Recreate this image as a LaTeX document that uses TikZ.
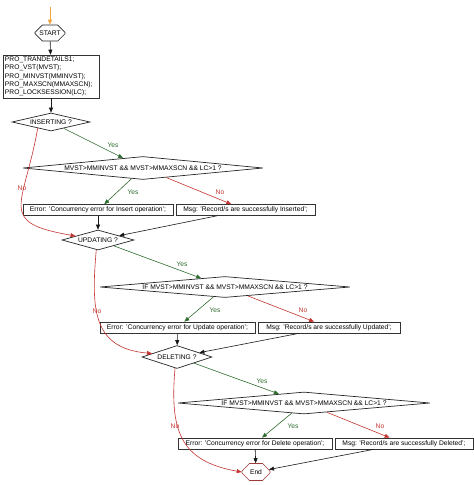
\documentclass[tikz,border=0pt]{standalone}
\usepackage{fontspec}
\setmainfont{Liberation Sans}
\usetikzlibrary{arrows.meta, shapes.geometric, shapes.misc}
\definecolor{yesgreen}{HTML}{2E6B2E}
\definecolor{nored}{HTML}{C23530}
\definecolor{startorange}{HTML}{F2A33A}
\definecolor{endred}{HTML}{9E3A3A}
\tikzset{
  chartfont/.style={font=\fontsize{6.7}{8.2}\selectfont},
  decis/.style={diamond, draw=black!85, line width=0.7pt, fill=white,
    shape aspect=#1, inner sep=0pt, chartfont},
  decis/.default=12,
  procbox/.style={rectangle, draw=black!80, line width=0.6pt, fill=white,
    align=left, text width=92pt, minimum width=96pt, minimum height=43pt,
    inner sep=1.5pt, chartfont},
  msgbox/.style={rectangle, draw=black!80, line width=0.6pt, fill=white,
    minimum height=11pt, inner sep=0.5pt, chartfont},
  termin/.style={chamfered rectangle, chamfered rectangle xsep=4pt,
    chamfered rectangle ysep=4pt, draw=black!85, line width=0.6pt,
    fill=white, inner sep=1pt, chartfont},
  flow/.style={draw=black!90, line width=0.6pt, -{Triangle[length=5pt,width=4pt]}},
  yesline/.style={draw=yesgreen, line width=0.6pt, -{Triangle[length=5pt,width=4pt]}},
  noline/.style={draw=nored, line width=0.6pt, -{Triangle[length=5pt,width=4pt]}},
  yeslbl/.style={text=yesgreen, chartfont, inner sep=0pt},
  nolbl/.style={text=nored, chartfont, inner sep=0pt}
}

\begin{document}
\begin{tikzpicture}[x=1pt, y=1pt]
\useasboundingbox (0,0) rectangle (474,-485);
% start and set-up
\coordinate (entry) at (50,-7);
\node[termin, minimum width=30pt, minimum height=16pt] (start) at (50,-33) {START};
\node[procbox] (pro) at (51,-76.5) {PRO\_TRANDETAILS1;\\PRO\_VST(MVST);\\PRO\_MINVST(MMINVST);\\PRO\_MAXSCN(MMAXSCN);\\PRO\_LOCKSESSION(LC);};
% insert
\node[decis=4, minimum width=78pt, minimum height=18pt] (ins) at (51,-122) {INSERTING ?};
\node[decis, minimum width=240pt, minimum height=23pt] (cond1) at (143,-168) {MVST>MMINVST \&\& MVST>MMAXSCN \&\& LC>1 ?};
\node[msgbox, minimum width=150pt] (err1) at (98,-210) {Error: 'Concurrency error for Insert operation';};
\node[msgbox, minimum width=139pt] (msg1) at (245.5,-210) {Msg: 'Record/s are successfully Inserted';};
% update
\node[decis=4, minimum width=72pt, minimum height=20pt] (upd) at (98,-240) {UPDATING ?};
\node[decis, minimum width=250pt, minimum height=21pt] (cond2) at (225,-287) {IF MVST>MMINVST \&\& MVST>MMAXSCN \&\& LC>1 ?};
\node[msgbox, minimum width=155pt] (err2) at (177.5,-327.5) {Error: 'Concurrency error for Update operation';};
\node[msgbox, minimum width=142pt] (msg2) at (329,-327.5) {Msg: 'Record/s are successfully Updated';};
% delete
\node[decis=4, minimum width=70pt, minimum height=23pt] (del) at (177,-357) {DELETING ?};
\node[decis, minimum width=252pt, minimum height=22pt] (cond3) at (304,-403) {IF MVST>MMINVST \&\& MVST>MMAXSCN \&\& LC>1 ?};
\node[msgbox, minimum width=154pt] (err3) at (255,-443.5) {Error: 'Concurrency error for Delete operation';};
\node[msgbox, minimum width=138pt] (msg3) at (404,-443.5) {Msg: 'Record/s are successfully Deleted';};
\node[termin, draw=endred, minimum width=28pt, minimum height=17pt] (end) at (256,-472) {End};
% connectors
\draw[draw=startorange, line width=0.6pt, -{Triangle[length=5pt,width=4pt]}] (entry) -- (start);
\draw[flow] (start) -- (pro);
\draw[flow] (pro) -- (ins);
\draw[yesline] (ins) -- (cond1);
\draw[yesline] (cond1) -- (err1);
\draw[noline] (cond1) -- (msg1);
\draw[noline] (ins.-155) to[out=-100, in=170, looseness=1.8] (upd.170);
\draw[flow] (err1) -- (upd);
\draw[flow] (msg1) -- (upd);
\draw[yesline] (upd) -- (cond2);
\draw[yesline] (cond2) -- (err2);
\draw[noline] (cond2) -- (msg2);
\draw[noline] (upd.-100) to[out=-95, in=175, looseness=1.3] (del.172);
\draw[flow] (err2) -- (del);
\draw[flow] (msg2) -- (del);
\draw[yesline] (del) -- (cond3);
\draw[yesline] (cond3) -- (err3);
\draw[noline] (cond3) -- (msg3);
\draw[noline] (del.-100) to[out=-95, in=170, looseness=1.3] (end.west);
\draw[flow] (err3) -- (end);
\draw[flow] (msg3) -- (end);
% labels
\node[yeslbl] (y1) at (113,-145) {Yes};
\node[yeslbl] (y2) at (133,-192) {Yes};
\node[nolbl] (n2) at (220,-192) {No};
\node[nolbl] (n1) at (22,-188) {No};
\node[yeslbl] (y3) at (182,-264) {Yes};
\node[yeslbl] (y4) at (215,-310) {Yes};
\node[nolbl] (n4) at (303,-310) {No};
\node[nolbl] (n3) at (97,-311) {No};
\node[yeslbl] (y5) at (262,-381) {Yes};
\node[yeslbl] (y6) at (293,-426) {Yes};
\node[nolbl] (n6) at (380,-426) {No};
\node[nolbl] (n5) at (175,-426) {No};
\end{tikzpicture}
\end{document}
